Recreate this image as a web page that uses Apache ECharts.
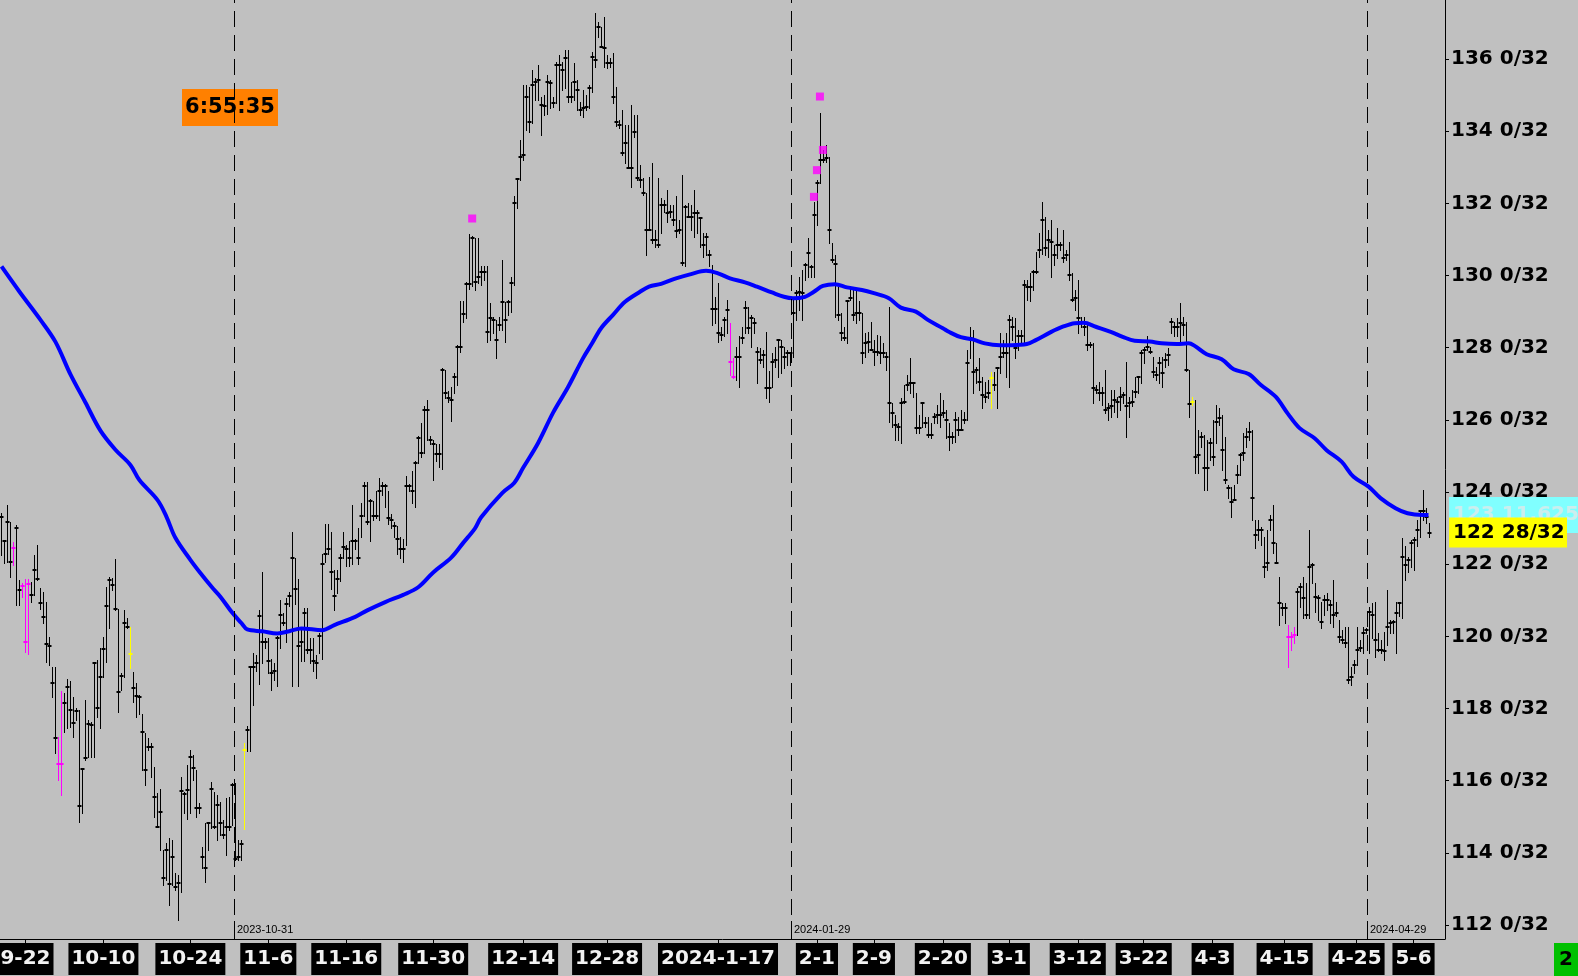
<!DOCTYPE html>
<html><head><meta charset="utf-8">
<script src="https://cdn.jsdelivr.net/npm/echarts@6/dist/echarts.min.js"></script>
<style>html,body{margin:0;padding:0;background:#c0c0c0;}#c{width:1578px;height:976px;}</style>
</head><body><div id="c"></div>
<script>
// ---- data ----
const highs = [
123.41,122.67,123.64,123.16,122.62,123.08,121.56,121.47,121.59,121.59,
121.51,122.25,122.53,121.33,121.24,120.96,119.99,119.16,119.16,117.22,
118.49,118.42,118.81,118.76,118.33,118.00,117.96,116.34,118.23,117.68,
117.63,119.30,119.34,119.67,119.99,121.37,121.65,121.61,122.14,120.77,
118.97,120.73,120.50,120.27,119.02,118.70,118.37,117.86,117.31,117.17,
117.03,116.38,115.65,115.78,114.08,114.26,114.40,114.35,113.43,113.38,
116.11,115.69,116.43,116.85,116.71,116.29,115.37,114.17,114.82,114.82,
115.97,115.69,115.60,115.41,114.91,115.51,115.56,115.93,115.93,114.35,
114.36,117.04,117.51,119.14,119.55,119.49,120.72,121.77,119.96,119.96,
119.38,119.26,120.02,121.01,120.66,121.07,121.24,122.88,122.18,121.59,
120.19,120.78,120.78,119.96,119.96,119.49,120.08,122.29,123.11,123.11,
122.88,121.83,121.83,122.29,122.88,122.53,122.64,123.64,122.70,122.99,
123.69,124.28,124.28,123.81,123.75,124.04,124.39,124.28,124.22,124.04,
123.40,123.17,123.05,122.76,122.70,124.45,124.22,124.57,124.86,125.56,
125.91,126.38,126.55,125.56,125.44,125.33,125.33,127.43,127.37,126.79,
126.90,127.31,128.07,129.29,129.29,129.82,131.16,131.10,131.03,131.03,
130.25,130.25,130.25,129.23,128.86,128.77,128.86,130.43,129.27,129.32,
129.97,132.19,132.69,133.76,135.28,135.28,135.23,135.70,135.47,135.84,
134.96,135.00,135.56,135.42,134.96,135.93,136.11,135.93,136.25,136.25,
135.37,135.88,135.42,134.82,135.14,135.00,135.28,136.20,137.27,137.04,
136.90,137.17,136.11,136.02,136.16,135.23,134.31,134.59,134.17,134.17,
134.73,134.45,134.45,133.06,132.69,132.28,132.74,133.11,131.26,132.69,
132.14,132.09,132.37,131.95,131.95,132.19,131.54,132.79,131.95,132.00,
131.95,132.37,131.82,131.63,131.17,131.17,130.71,130.29,129.41,129.78,
128.58,128.86,129.32,128.67,127.70,128.03,128.31,128.58,129.28,129.14,
128.91,128.81,128.03,127.98,127.94,128.44,127.34,127.84,128.03,128.21,
128.21,128.03,127.94,127.89,129.32,129.60,129.97,130.15,130.34,131.03,
130.29,132.05,132.65,134.50,133.48,133.62,133.29,130.89,130.57,129.69,
128.95,128.58,129.32,129.69,129.64,129.64,129.28,128.95,128.40,128.44,
128.72,128.21,128.35,128.31,128.12,127.89,129.14,126.46,126.13,125.90,
126.60,126.97,127.24,127.70,127.06,126.73,126.13,126.50,126.09,126.09,
125.90,126.18,126.41,126.73,126.55,126.27,125.90,125.67,126.23,126.09,
126.27,126.23,127.94,128.58,128.49,127.47,127.70,127.19,127.06,127.10,
127.33,127.33,127.47,128.40,128.21,128.40,128.91,128.86,128.81,128.49,
128.49,129.88,129.88,130.06,130.15,130.66,131.17,132.05,131.63,131.26,
131.54,130.85,131.31,130.94,131.26,130.71,130.94,130.06,129.60,129.88,
128.86,128.86,128.67,128.17,128.12,126.97,127.06,126.92,127.38,126.46,
126.83,126.83,126.64,126.92,126.78,127.61,126.64,126.83,127.20,127.20,
127.94,128.03,128.31,128.03,127.75,127.47,127.75,127.75,127.84,127.98,
128.81,128.72,128.81,129.23,128.86,128.72,127.38,126.64,126.55,125.72,
125.67,125.58,125.44,125.49,126.00,126.41,126.32,126.13,125.53,124.19,
124.15,124.19,124.75,125.07,125.63,125.77,125.95,125.72,123.23,123.23,
123.04,122.76,122.95,123.36,123.64,122.58,121.65,120.91,120.91,120.31,
120.13,120.27,121.33,121.47,121.65,121.47,122.95,122.02,121.47,121.15,
120.96,121.15,121.19,121.01,121.56,120.96,120.45,120.18,120.27,120.27,
119.16,119.34,120.27,119.90,120.27,120.22,120.82,120.91,120.96,120.08,
119.90,120.13,121.28,120.45,120.45,120.96,120.96,122.72,122.49,122.21,
122.67,122.76,123.23,123.50,124.06,123.55,123.13];
const lows = [
122.25,122.02,122.07,121.65,121.97,120.87,120.87,121.10,119.57,119.50,
120.96,121.14,121.56,120.77,120.36,119.29,119.20,118.33,116.76,116.02,
115.60,117.36,117.45,117.49,117.22,117.68,114.86,115.09,116.57,116.66,
116.66,116.66,117.77,117.45,118.88,119.29,120.22,121.28,120.73,117.89,
118.51,118.88,120.22,119.11,118.19,117.77,117.86,116.29,115.88,116.85,
116.11,115.00,114.72,114.08,113.11,113.25,112.55,113.11,112.97,112.13,
112.92,115.09,114.95,115.09,116.02,115.00,115.09,113.57,113.20,114.08,
114.68,114.68,114.35,114.49,114.40,113.94,114.63,114.77,113.80,113.80,
113.80,114.65,116.81,116.81,118.09,119.03,118.68,119.26,119.67,118.97,
118.50,118.79,118.62,119.67,120.31,119.85,120.83,118.62,120.89,118.62,
119.32,119.32,119.55,119.26,119.03,118.85,119.55,119.38,122.06,122.29,
121.30,120.72,121.19,121.54,122.18,121.94,121.94,122.00,122.41,122.00,
122.76,123.34,123.11,122.64,123.23,123.29,123.23,123.93,123.58,123.11,
122.99,122.76,122.29,122.18,122.06,122.53,124.04,123.69,123.58,124.80,
124.98,125.09,125.44,125.33,124.34,124.86,124.69,124.63,126.61,126.49,
125.97,126.73,126.96,127.89,128.71,128.83,129.64,129.70,129.60,129.78,
129.74,129.88,128.17,128.21,128.40,127.70,128.49,128.49,128.17,128.91,
129.00,129.74,131.86,132.65,133.20,134.03,133.99,134.22,134.86,134.86,
133.89,134.45,134.49,134.63,134.68,134.77,134.59,135.14,135.19,134.82,
134.82,134.86,134.59,134.45,134.40,134.59,134.63,135.10,135.79,136.62,
136.34,135.79,135.74,135.79,134.77,134.13,134.08,133.34,133.11,132.97,
132.46,133.85,132.65,132.46,132.23,130.57,131.26,130.89,130.80,130.80,
131.17,131.77,131.49,131.63,131.40,131.08,131.17,130.29,130.25,131.63,
131.26,131.08,131.17,130.80,130.52,130.57,130.25,128.63,128.67,128.17,
128.21,128.31,128.40,127.24,127.15,127.10,126.92,128.12,128.40,128.40,
128.03,128.40,127.01,127.57,127.47,126.60,126.50,126.92,127.47,127.20,
127.29,127.43,127.52,127.52,127.75,128.77,129.04,128.77,129.88,129.97,
129.97,129.97,131.40,132.56,133.15,133.15,130.89,130.38,128.86,128.77,
128.21,128.21,128.12,129.32,128.77,128.67,128.77,127.57,127.75,127.89,
127.94,127.52,127.80,127.57,127.75,127.38,125.95,125.81,125.44,125.44,
125.35,126.46,126.83,126.73,126.64,125.63,125.63,125.81,125.81,125.53,
125.49,125.90,125.90,125.81,126.09,125.49,125.16,125.35,125.39,125.58,
125.72,125.90,126.00,127.70,126.73,127.01,126.83,126.32,126.50,126.60,
126.32,126.83,126.32,127.29,127.75,127.19,126.92,128.21,127.70,127.94,
128.12,128.12,129.32,129.28,129.60,130.06,130.52,130.61,130.57,130.52,
129.97,130.29,130.48,130.71,130.38,130.43,129.88,129.28,129.04,128.40,
128.58,128.35,127.94,128.03,126.46,126.73,126.55,126.41,126.18,126.00,
126.09,126.23,126.09,126.27,126.46,125.53,126.09,126.37,126.64,126.73,
127.01,127.57,127.94,127.84,127.19,127.10,127.01,126.92,127.47,127.52,
128.40,128.31,128.31,128.12,128.35,127.34,126.09,126.41,124.52,124.52,
125.26,124.06,124.06,124.89,124.75,125.35,125.86,124.61,124.24,123.82,
123.32,123.78,124.24,124.47,124.89,125.26,125.44,123.23,122.44,122.67,
122.53,121.65,121.84,122.95,122.30,122.02,120.31,120.59,120.36,119.16,
119.62,119.81,120.04,120.82,120.50,120.50,120.50,121.47,120.68,120.45,
120.22,120.59,120.73,120.36,120.27,120.55,119.85,119.81,119.71,118.70,
118.65,118.97,119.21,119.58,119.53,120.08,119.53,119.94,119.44,119.58,
119.53,119.34,119.76,120.08,120.08,119.53,120.55,120.50,121.56,121.79,
121.93,121.84,122.49,122.76,123.23,123.13,122.76];
const closes = [
123.32,122.64,123.16,122.07,122.45,122.99,121.28,121.39,119.85,121.45,
121.14,121.85,121.58,120.91,120.54,119.78,119.74,118.72,117.17,116.45,
116.45,118.14,118.60,117.96,117.61,117.93,115.30,116.31,116.62,117.57,
117.54,119.27,118.00,118.88,119.64,120.85,121.56,121.42,120.77,118.47,
118.91,120.36,120.27,119.51,118.56,118.34,118.33,117.34,116.29,116.94,
116.92,115.56,114.72,115.14,113.29,114.08,113.13,113.89,113.04,113.15,
115.70,115.63,115.74,116.66,116.34,115.23,115.23,113.89,113.57,114.82,
115.78,114.72,115.32,114.82,114.49,114.72,114.72,115.88,113.84,113.89,
114.24,116.85,117.40,119.14,119.14,119.26,120.57,119.85,119.85,119.32,
118.97,119.03,119.96,120.60,120.37,120.89,121.13,122.18,121.30,119.73,
119.85,120.66,119.61,119.61,119.32,119.26,120.02,122.00,122.29,122.41,
121.77,121.13,121.59,122.18,122.47,122.41,122.18,122.64,122.64,122.18,
123.34,124.16,123.17,123.75,123.34,123.34,124.04,124.16,124.16,123.29,
123.23,123.05,122.70,122.41,122.41,124.16,124.16,124.04,124.80,125.50,
125.09,126.26,126.26,125.44,125.33,125.04,125.04,127.37,126.73,126.61,
126.55,127.19,128.01,128.01,128.94,129.76,129.76,131.04,129.83,129.97,
130.11,130.11,128.44,128.81,128.77,128.21,128.63,129.27,128.77,129.27,
129.79,132.00,132.67,133.29,133.34,134.96,134.26,135.28,135.37,135.42,
134.73,134.70,135.37,135.33,134.77,135.84,135.84,135.70,136.02,134.96,
134.96,135.37,135.14,134.59,134.63,134.68,135.19,136.07,135.97,136.90,
136.34,136.30,135.88,135.88,134.96,134.26,134.17,133.39,133.66,132.97,
132.97,133.99,132.69,132.65,132.28,131.26,131.26,130.99,130.99,130.85,
131.95,131.95,131.72,131.77,131.54,131.22,131.26,130.34,131.91,131.63,
131.63,131.72,131.72,131.59,130.85,131.08,130.57,129.06,129.06,128.40,
128.35,128.77,129.04,127.61,127.20,127.75,127.75,128.26,129.09,128.54,
128.81,128.67,127.89,127.66,127.80,126.87,126.87,127.61,127.66,128.21,
128.03,127.75,127.84,127.86,128.95,129.51,129.55,129.51,130.29,130.62,
130.24,131.68,132.56,133.20,133.20,133.25,131.26,130.43,130.32,128.91,
128.40,128.26,129.28,129.37,128.91,128.95,128.95,127.84,128.12,128.17,
127.94,127.89,127.89,127.84,127.84,127.75,126.46,126.18,125.86,125.81,
126.46,126.50,126.97,127.01,127.01,125.77,125.77,126.46,125.90,125.58,
125.58,126.09,126.13,126.13,126.18,125.99,125.53,125.53,125.99,125.72,
125.72,125.99,127.57,128.26,127.33,127.38,127.06,126.69,126.64,126.73,
127.15,126.97,127.43,127.75,127.84,127.84,128.77,128.58,127.98,128.31,
128.31,129.74,129.69,129.69,130.11,130.11,130.71,131.54,130.75,130.98,
130.94,130.57,130.85,130.85,130.48,130.57,130.01,129.32,129.37,128.81,
128.72,128.58,128.07,128.07,126.87,126.83,126.73,126.73,126.27,126.32,
126.37,126.55,126.50,126.64,126.69,126.37,126.46,126.50,126.78,127.20,
127.84,127.94,128.03,127.89,127.33,127.24,127.57,127.29,127.66,127.80,
128.72,128.58,128.58,128.67,128.63,127.38,126.45,126.50,124.98,125.03,
125.53,124.66,124.66,125.35,124.98,125.95,126.04,125.16,124.33,124.10,
123.73,123.78,124.47,125.03,125.07,125.53,125.67,123.82,122.81,122.95,
122.95,121.93,122.02,123.23,122.58,122.02,120.91,120.78,120.78,119.99,
119.99,120.04,121.24,121.38,121.05,120.59,121.93,121.98,121.10,121.05,
120.41,121.01,121.01,120.87,120.59,120.64,119.99,119.90,119.81,118.79,
118.88,119.21,119.62,119.67,120.08,120.18,120.68,120.59,119.90,119.62,
119.62,119.58,120.27,120.36,120.41,120.64,120.91,122.21,121.98,122.12,
122.58,122.67,122.95,123.46,123.46,123.32,122.875];

const magentaBars = [4,7,8,9,19,20,243,244,429,430,431];
const yellowBars = [43,81,330,397];

const maIdx = [0,6,13,18,23,28,33,38,43,46,52,55,58,63,66,70,73,77,80,82,87,92,96,100,107,111,118,122,128,134,139,144,150,154,158,160,167,171,174,179,184,189,194,197,200,204,208,213,216,220,225,230,235,239,243,248,252,257,261,264,268,271,274,278,282,287,291,296,300,305,309,314,316,320,324,328,333,337,342,345,350,354,358,361,365,370,374,378,383,387,392,396,398,402,407,411,416,420,425,429,433,438,442,447,451,456,460,465,469,474,476];
const maVal = [130.25,129.55,128.77,128.16,127.26,126.48,125.70,125.17,124.75,124.33,123.78,123.32,122.73,122.12,121.79,121.38,121.10,120.65,120.37,120.19,120.14,120.08,120.14,120.22,120.17,120.31,120.54,120.72,120.95,121.15,121.36,121.77,122.18,122.59,123.00,123.30,123.97,124.25,124.67,125.36,126.20,126.91,127.71,128.12,128.54,128.91,129.27,129.55,129.69,129.77,129.92,130.04,130.13,130.06,129.92,129.81,129.69,129.53,129.41,129.37,129.41,129.55,129.71,129.76,129.67,129.60,129.51,129.37,129.11,129.00,128.77,128.54,128.44,128.29,128.23,128.12,128.07,128.07,128.10,128.21,128.43,128.58,128.68,128.69,128.58,128.44,128.30,128.19,128.17,128.12,128.10,128.12,128.05,127.82,127.68,127.40,127.27,126.97,126.64,126.18,125.77,125.49,125.16,124.84,124.42,124.15,123.83,123.55,123.41,123.36328,123.36328];

const sigIdx = [157,271,272,273,274];
const sigVal = [131.58,132.18,132.92,134.96,133.48];

const tickIdx = [8,34,63,89,115,144,174,202,239,272,291,314,336,359,381,404,428,452,471];
const tickLabels = ['9-22','10-10','10-24','11-6','11-16','11-30','12-14','12-28','2024-1-17','2-1','2-9','2-20','3-1','3-12','3-22','4-3','4-15','4-25','5-6'];

const sessionIdx = [78,264,456];
const sessionLabels = ['2023-10-31','2024-01-29','2024-04-29'];

const priceTicks = [112,114,116,118,120,122,124,126,128,130,132,134,136];
const clockText = '6:55:35';
const cornerText = '2';
const nCats = 482;
const yMin = 111.611, yMax = 137.636;

// ---- helpers ----
const fmt32 = v => { const n = Math.floor(v + 1e-9); return n + ' ' + Math.round((v - n) * 32) + '/32'; };
const fmtMA = v => { const n = Math.floor(v); const f = Math.round((v - n) * 32 * 1000) / 1000; return n + ' ' + f; };
const magSet = new Set(magentaBars), yelSet = new Set(yellowBars);
const colorOf = i => magSet.has(i) ? '#ff00ff' : (yelSet.has(i) ? '#ffff00' : '#000000');

const chart = echarts.init(document.getElementById('c'), null, {renderer: 'canvas'});
const barData = highs.map((h, i) => [i, h, lows[i], closes[i]]);
const FONT = '"DejaVu Sans", Verdana, sans-serif';

const option = {
  animation: false,
  backgroundColor: '#c0c0c0',
  grid: {left: 0, right: 133, top: 0, bottom: 37, containLabel: false, outerBoundsMode: 'none'},
  xAxis: {
    type: 'value', min: -0.5, max: nCats - 0.5, position: 'bottom',
    axisLine: {show: true, onZero: false, lineStyle: {color: '#000', width: 1}},
    axisTick: {show: true, customValues: tickIdx, length: 4, lineStyle: {color: '#000'}},
    axisLabel: {
      show: true, customValues: tickIdx,
      formatter: v => tickLabels[tickIdx.indexOf(Math.round(v))] || '',
      color: '#f2f2f2', backgroundColor: '#000', padding: [6, 3, 6, 3], margin: 4,
      fontSize: 20, fontWeight: 'bold', fontFamily: FONT, lineHeight: 20
    },
    splitLine: {show: false}
  },
  yAxis: {
    type: 'value', position: 'right', min: yMin, max: yMax, scale: true,
    axisLine: {show: true, onZero: false, lineStyle: {color: '#000', width: 1}},
    axisTick: {show: true, customValues: priceTicks, length: 4, lineStyle: {color: '#000'}},
    axisLabel: {
      customValues: priceTicks, formatter: fmt32, color: '#000',
      fontSize: 20, fontWeight: 'bold', fontFamily: FONT, margin: 6, padding: [4, 0, 0, 0]
    },
    splitLine: {show: false}
  },
  series: [
    {
      type: 'custom', name: 'bars', data: barData, clip: true, z: 2,
      encode: {x: 0, y: [1, 2, 3]},
      renderItem: (params, api) => {
        const i = api.value(0);
        const pH = api.coord([i, api.value(1)]);
        const pL = api.coord([i, api.value(2)]);
        const pC = api.coord([i, api.value(3)]);
        const x = Math.round(pH[0]) + 0.5;
        const col = colorOf(i);
        return {
          type: 'group', children: [
            {type: 'line', shape: {x1: x, y1: Math.round(pH[1]), x2: x, y2: Math.round(pL[1]) + 1},
             style: {stroke: col, lineWidth: 1}},
            {type: 'rect', shape: {x: x - 2, y: Math.round(pC[1]) - 1, width: 4, height: 2},
             style: {fill: col}}
          ]
        };
      }
    },
    {
      type: 'line', name: 'MA', data: maIdx.map((x, i) => [x, maVal[i]]),
      smooth: 0.35, symbol: 'none', z: 3,
      lineStyle: {color: '#0000ff', width: 4},
      markLine: {
        silent: true, symbol: ['none', 'none'], label: {show: false},
        lineStyle: {color: '#000', width: 1, type: [16, 8]},
        data: sessionIdx.map(i => ({xAxis: i - 0.5}))
      }
    },
    {
      type: 'scatter', name: 'signals', data: sigIdx.map((x, i) => [x, sigVal[i]]),
      symbol: 'rect', symbolSize: 8, z: 4,
      itemStyle: {color: '#ff00ff'}
    }
  ]
};
chart.setOption(option);

// ---- overlays positioned from the axes ----
const px = (x, y) => chart.convertToPixel({xAxisIndex: 0, yAxisIndex: 0}, [x, y]);
const g = [];
const axisY = px(0, yMin)[1];
sessionIdx.forEach((idx, k) => {
  const x = Math.round(px(idx - 0.5, yMin)[0]) + 0.5;
  g.push({type: 'line', shape: {x1: x, y1: axisY - 18, x2: x, y2: axisY}, style: {stroke: '#000', lineWidth: 1}, z: 10});
  g.push({type: 'text', x: x + 2.5, y: axisY - 9, z: 10,
    style: {text: sessionLabels[k], fill: '#000', font: '11px "Liberation Sans", Arial, sans-serif', verticalAlign: 'middle', align: 'left'}});
});
const lastMA = maVal[maVal.length - 1], lastC = closes[closes.length - 1];
const yMA = px(0, lastMA)[1], yC = px(0, lastC)[1];
const rightX = px(nCats - 0.5, yMin)[0];
g.push({type: 'rect', z: 5, shape: {x: rightX + 4, y: yMA - 18, width: 200, height: 36}, style: {fill: '#80ffff'}});
g.push({type: 'text', z: 6, x: rightX + 8, y: yMA, style: {text: fmtMA(lastMA), fill: '#cceeee', font: 'bold 20px ' + FONT, verticalAlign: 'middle', align: 'left'}});
g.push({type: 'rect', z: 7, shape: {x: rightX + 4, y: yC - 15, width: 118, height: 30}, style: {fill: '#ffff00'}});
g.push({type: 'text', z: 8, x: rightX + 8, y: yC, style: {text: fmt32(lastC), fill: '#000', font: 'bold 20px ' + FONT, verticalAlign: 'middle', align: 'left'}});
// corner counter box
g.push({type: 'rect', z: 5, shape: {x: 1554, y: 943, width: 24, height: 33}, style: {fill: '#00c000'}});
g.push({type: 'text', z: 6, x: 1566, y: 960, style: {text: cornerText, fill: '#000', font: 'bold 20px ' + FONT, verticalAlign: 'middle', align: 'center'}});
// clock box
g.push({type: 'rect', z: 0, shape: {x: 182, y: 89, width: 96, height: 37}, style: {fill: '#ff8000'}});
g.push({type: 'text', z: 0, x: 230, y: 108, style: {text: clockText, fill: '#000', font: 'bold 21px ' + FONT, verticalAlign: 'middle', align: 'center'}});
chart.setOption({graphic: {elements: g}});
</script>
</body></html>
